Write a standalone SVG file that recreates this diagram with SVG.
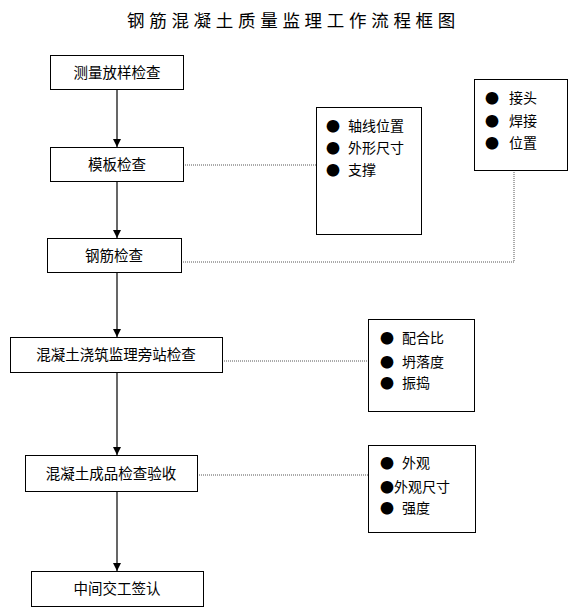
<svg xmlns="http://www.w3.org/2000/svg" width="585" height="609" viewBox="0 0 585 609">
<style>
text{font-family:"Noto Sans CJK SC","Noto Sans CJK TC",sans-serif;fill:#000}
.t{font-size:14.5px}
.n rect,.s rect{fill:#fff;stroke:#000;stroke-width:1}
.b{font-size:14px}
.line{stroke:#000;stroke-width:1.2;fill:none}
.dot{stroke:#555;stroke-width:1;stroke-dasharray:1,1;fill:none}
</style>
<defs>
<marker id="ah" viewBox="0 0 10 10" refX="10" refY="5" markerWidth="8" markerHeight="8" markerUnits="userSpaceOnUse" orient="auto">
<path d="M0,0 L10,5 L0,10 Z" fill="#000"/>
</marker>
</defs>
<rect width="585" height="609" fill="#fff"/>
<text x="127" y="27" font-size="17.5" letter-spacing="4.7" fill="#333">钢筋混凝土质量监理工作流程框图</text>
<g id="connectors">
<line class="line" x1="117" y1="89" x2="117" y2="147" marker-end="url(#ah)"/>
<line class="line" x1="117" y1="181" x2="117" y2="238" marker-end="url(#ah)"/>
<line class="line" x1="117" y1="273" x2="117" y2="337" marker-end="url(#ah)"/>
<line class="line" x1="117" y1="372" x2="117" y2="455" marker-end="url(#ah)"/>
<line class="line" x1="117" y1="491" x2="117" y2="571" marker-end="url(#ah)"/>
<line class="dot" x1="183" y1="165" x2="316" y2="165"/>
<polyline class="dot" points="181,262 514,262 514,170"/>
<line class="dot" x1="222" y1="361" x2="368" y2="361"/>
<line class="dot" x1="197" y1="475" x2="368" y2="475"/>
</g>
<g id="n1" class="n"><rect x="50.5" y="55.5" width="133" height="34"/><text class="t" x="117" y="78" text-anchor="middle">测量放样检查</text></g>
<g id="n2" class="n"><rect x="50.5" y="147.5" width="133" height="34"/><text class="t" x="117" y="170" text-anchor="middle">模板检查</text></g>
<g id="n3" class="n"><rect x="47.5" y="238.5" width="134" height="34"/><text class="t" x="114" y="261" text-anchor="middle">钢筋检查</text></g>
<g id="n4" class="n"><rect x="10.5" y="337.5" width="212" height="35"/><text class="t" x="116" y="360" text-anchor="middle">混凝土浇筑监理旁站检查</text></g>
<g id="n5" class="n"><rect x="25.5" y="455.5" width="172" height="36"/><text class="t" x="111" y="479" text-anchor="middle">混凝土成品检查验收</text></g>
<g id="n6" class="n"><rect x="31.5" y="571.5" width="172" height="35"/><text class="t" x="117" y="594" text-anchor="middle">中间交工签认</text></g>
<g id="s1" class="s"><rect x="316.5" y="107.5" width="105" height="127"/>
<text class="b" y="131"><tspan x="326">●</tspan><tspan x="348">轴线位置</tspan></text>
<text class="b" y="153"><tspan x="326">●</tspan><tspan x="348">外形尺寸</tspan></text>
<text class="b" y="175"><tspan x="326">●</tspan><tspan x="348">支撑</tspan></text>
</g>
<g id="s2" class="s"><rect x="474.5" y="79.5" width="93" height="91"/>
<text class="b" y="103"><tspan x="485">●</tspan><tspan x="509">接头</tspan></text>
<text class="b" y="126"><tspan x="485">●</tspan><tspan x="509">焊接</tspan></text>
<text class="b" y="148"><tspan x="485">●</tspan><tspan x="509">位置</tspan></text>
</g>
<g id="s3" class="s"><rect x="368.5" y="319.5" width="106" height="92"/>
<text class="b" y="343"><tspan x="380">●</tspan><tspan x="402">配合比</tspan></text>
<text class="b" y="367"><tspan x="380">●</tspan><tspan x="402">坍落度</tspan></text>
<text class="b" y="388"><tspan x="380">●</tspan><tspan x="402">振捣</tspan></text>
</g>
<g id="s4" class="s"><rect x="368.5" y="445.5" width="107" height="87"/>
<text class="b" y="468"><tspan x="380">●</tspan><tspan x="402">外观</tspan></text>
<text class="b" y="492"><tspan x="380">●外观尺寸</tspan></text>
<text class="b" y="513"><tspan x="380">●</tspan><tspan x="402">强度</tspan></text>
</g>
</svg>
